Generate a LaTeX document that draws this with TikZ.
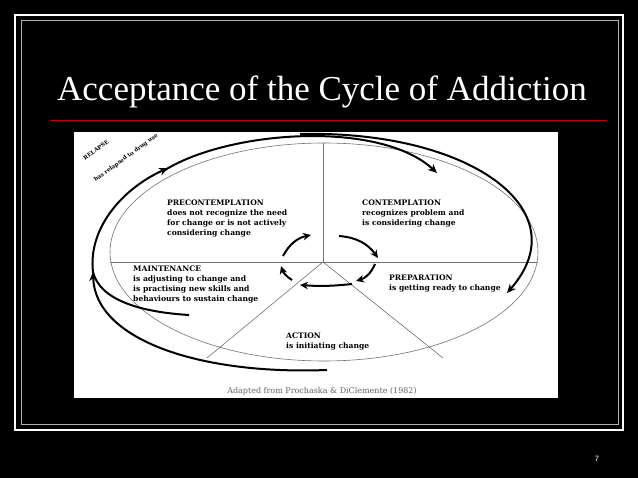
\documentclass[tikz,border=0pt]{standalone}
\usepackage{fontspec}
\setmainfont{Liberation Serif}
\newfontfamily\diag{DejaVu Serif}
\usetikzlibrary{arrows.meta}
\tikzset{
  lbl/.style={align=left,anchor=north west,font=\diag\bfseries\fontsize{7.6}{10}\selectfont,inner sep=0pt},
  rlbl/.style={font=\diag\bfseries\fontsize{5.6}{7}\selectfont,rotate=36,inner sep=0pt},
  big/.style={line width=2pt,-{Stealth[length=9pt,width=8pt]}},
  small/.style={line width=2pt,-{Stealth[length=8pt,width=7.5pt]}},
  thin/.style={draw=black!55,line width=0.6pt}
}
\begin{document}
\begin{tikzpicture}[x=1pt,y=-1pt]
\fill[black] (0,0) rectangle (638,478);
\useasboundingbox (0,0) rectangle (638,478);
\draw[white,line width=2.2pt] (15,15) rectangle (623,430);
\draw[white!70!black,line width=1pt] (21,21) rectangle (618,425);
\node[text=white,font=\fontsize{35}{40}\selectfont] (title) at (322,92) {Acceptance of the Cycle of Addiction};
\draw[red!75!black,line width=0.8pt] (50,120) -- (607,120);
\fill[white] (74,132) rectangle (558,398);
% ellipse
\coordinate (c) at (323,262);
\draw[thin] (324,252) ellipse [x radius=214, y radius=109];
\draw[thin] (110,262) -- (538,262);
\draw[thin] (323,143) -- (c);
\draw[thin] (c) -- (207,358);
\draw[thin] (c) -- (443,358);
% outer arrows
\coordinate (a0) at (327,370);
\coordinate (a1) at (93,272);
\coordinate (b0) at (189,315);
\draw[big] (a0) .. controls (200,375) and (95,340) .. (a1);
\draw[line width=2pt] (b0) .. controls (140,312) and (100,300) .. (a1);
\coordinate (r1) at (168,168);
\draw[big] (a1) .. controls (88,230) and (120,190) .. (r1);
\coordinate (t1) at (437,173);
\draw[big] (165,170) .. controls (230,130) and (380,120) .. (t1);
\coordinate (p1) at (507,293);
\draw[big] (300,134) .. controls (470,130) and (580,210) .. (p1);
% inner arrows
\draw[small] (283,256) to[bend left=25] (311,235);
\draw[small] (339,236) to[bend left=25] (378,258);
\draw[small] (375,264) to[bend left=25] (356,281);
\draw[small] (352,284) to[bend left=5] (300,285);
\draw[small] (292,280) to[bend left=20] (281,266);
% labels
\node[rlbl] (rel) at (96,150) {RELAPSE};
\node[rlbl] (rel2) at (126,158) {has relapsed to drug use};
\node[lbl] (pre) at (167,200) {PRECONTEMPLATION\\does not recognize the need\\for change or is not actively\\considering change};
\node[lbl] (con) at (362,200) {CONTEMPLATION\\recognizes problem and\\is considering change};
\node[lbl] (mai) at (133,266) {MAINTENANCE\\is adjusting to change and\\is practising new skills and\\behaviours to sustain change};
\node[lbl] (pre2) at (389,275) {PREPARATION\\is getting ready to change};
\node[lbl] (act) at (286,333) {ACTION\\is initiating change};
\node[font=\diag\fontsize{8}{9}\selectfont,text=black!60] (src) at (322,391) {Adapted from Prochaska \& DiClemente (1982)};
\node[text=white,font=\sffamily\fontsize{8}{9}\selectfont] (pg) at (597,459) {7};
\end{tikzpicture}
\end{document}
